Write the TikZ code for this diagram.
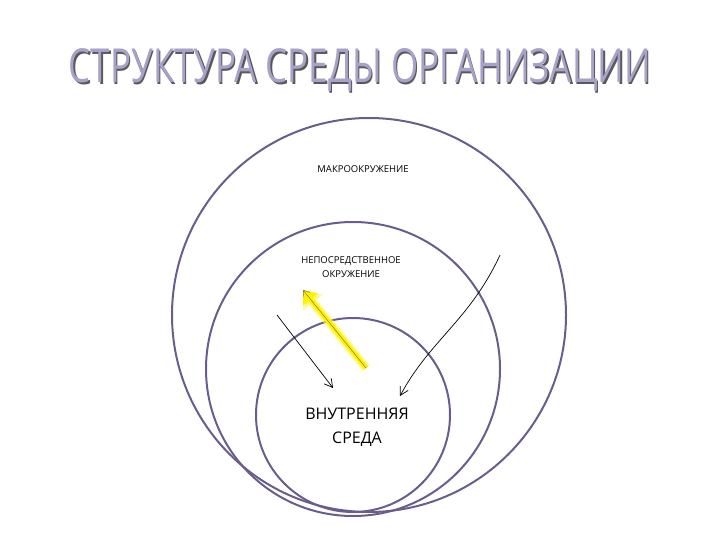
\documentclass[tikz,border=0pt]{standalone}
\usepackage{fontspec}
\setmainfont{Open Sans}
\usetikzlibrary{arrows.meta}
\definecolor{ring}{HTML}{6A5D8C}
\definecolor{ttl}{HTML}{A8A2CA}
\begin{document}
\begin{tikzpicture}[x=1pt,y=-1pt,
  ring/.style={draw=ring,line width=2pt},
  lbl/.style={font=\fontsize{9.5}{12}\selectfont,align=center,inner sep=0},
  blk/.style={draw=black,line width=0.7pt,-{Straight Barb[length=8pt,width=9pt]}}]
\useasboundingbox (0,0) rectangle (720,540);
\node[ring,circle,minimum size=394pt,inner sep=0] (outer) at (369,315) {};
\node[ring,circle,minimum size=294pt,inner sep=0] (mid) at (353,369) {};
\node[ring,circle,minimum size=194pt,inner sep=0] (inner) at (353,415) {};
\node[text=gray!70!black] (tsh) at (361.5,71.5) {\resizebox{582pt}{34pt}{\mdseries СТРУКТУРА СРЕДЫ ОРГАНИЗАЦИИ}};
\node[text=ttl] (title) at (360,70) {\resizebox{582pt}{34pt}{\mdseries СТРУКТУРА СРЕДЫ ОРГАНИЗАЦИИ}};
\node[lbl] (macro) at (363,169) {МАКРООКРУЖЕНИЕ};
\node[lbl] (near) at (351,267) {НЕПОСРЕДСТВЕННОЕ\\[2pt]ОКРУЖЕНИЕ};
\node[lbl,font=\fontsize{16}{24}\selectfont] (int) at (357,427) {ВНУТРЕННЯЯ\\СРЕДА};
\coordinate (a1) at (277,315);
\coordinate (a2) at (333,388);
\coordinate (b1) at (500,255);
\coordinate (b2) at (400,396);
\coordinate (y1) at (366,368);
\coordinate (y2) at (303,290);
\draw[blk] (a1) -- (a2);
\draw[blk] (b1) .. controls (470,320) and (430,340) .. (b2);
\draw[yellow!70,line width=9pt,opacity=0.6,-{Triangle[length=16pt,width=24pt]}] (y1) -- (y2);
\draw[yellow,line width=5pt,-{Triangle[length=12pt,width=18pt]}] (y1) -- (y2);
\draw[olive!70!black,line width=0.4pt,-{Straight Barb[length=6pt,width=8pt]}] (y1) -- (y2);
\end{tikzpicture}
\end{document}
